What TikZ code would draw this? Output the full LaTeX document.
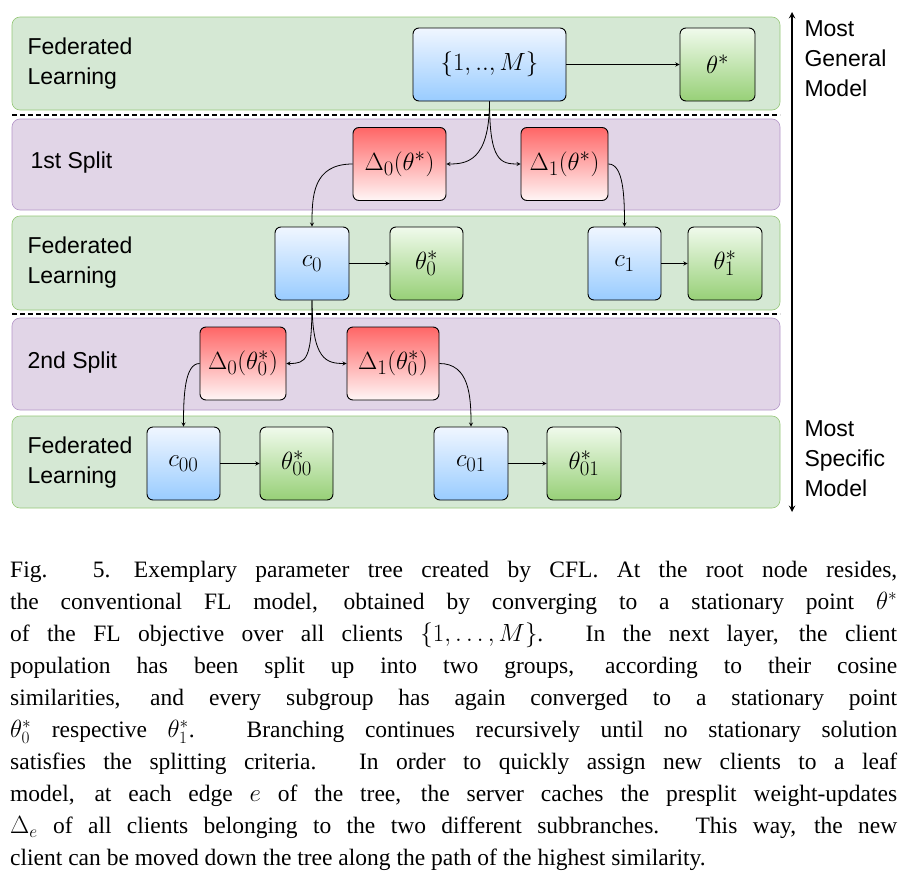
\documentclass[tikz,border=0pt]{standalone}
\usepackage{fontspec}
\setmainfont{Liberation Serif}
\newfontfamily\lab{Liberation Sans}
\begin{document}
\begin{tikzpicture}[x=1pt,y=-1pt,
 gband/.style={line width=0.6pt,rounded corners=8pt,fill={rgb,255:red,213;green,232;blue,212},draw={rgb,255:red,150;green,200;blue,120}},
 pband/.style={line width=0.6pt,rounded corners=8pt,fill={rgb,255:red,225;green,213;blue,231},draw={rgb,255:red,180;green,150;blue,200}},
 box/.style={draw,line width=0.9pt,rounded corners=6pt,minimum height=73pt,inner sep=1pt,font=\fontsize{29}{32}\selectfont},
 bbox/.style={box,top color={rgb,255:red,240;green,246;blue,255},bottom color={rgb,255:red,153;green,204;blue,255}},
 gbox/.style={box,top color={rgb,255:red,240;green,250;blue,236},bottom color={rgb,255:red,151;green,208;blue,119}},
 rbox/.style={box,top color={rgb,255:red,255;green,102;blue,102},bottom color={rgb,255:red,255;green,246;blue,246}},
 lbl/.style={font=\lab\fontsize{23}{30}\selectfont,align=left,anchor=west},
 arr/.style={-stealth,line width=0.9pt},
 carr/.style={-stealth,line width=0.8pt}]
\useasboundingbox (0,0) rectangle (912,894);
\fill[white] (0,0) rectangle (912,894);
% bands
\draw[gband] (12,17) rectangle (780,110);
\draw[pband] (12,119) rectangle (780,210);
\draw[gband] (12,216) rectangle (780,310);
\draw[pband] (12,318) rectangle (780,410);
\draw[gband] (12,416) rectangle (780,508);
\draw[line width=1.6pt,dash pattern=on 5pt off 3pt] (12,115) -- (780,115);
\draw[line width=1.6pt,dash pattern=on 5pt off 3pt] (12,314) -- (780,314);
% labels
\node[lbl] (l1) at (24,64) {Federated\\Learning};
\node[lbl] (l2) at (27,163) {1st Split};
\node[lbl] (l3) at (24,263) {Federated\\Learning};
\node[lbl] (l4) at (24,363) {2nd Split};
\node[lbl] (l5) at (24,463) {Federated\\Learning};
% nodes
\node[bbox,minimum width=153pt] (root) at (489.5,64.5) {$\{1,..,M\}$};
\node[gbox,minimum width=75pt] (t) at (717.5,64.5) {$\theta^*$};
\node[rbox,minimum width=93pt] (d0) at (399.5,164) {$\Delta_0(\theta^*)$};
\node[rbox,minimum width=87pt] (d1) at (564.5,164) {$\Delta_1(\theta^*)$};
\node[bbox,minimum width=74pt] (c0) at (312,263.5) {$c_0$};
\node[gbox,minimum width=73pt] (t0) at (426.5,263.5) {$\theta_0^*$};
\node[bbox,minimum width=73pt] (c1) at (624.5,263.5) {$c_1$};
\node[gbox,minimum width=74pt] (t1) at (725,263.5) {$\theta_1^*$};
\node[rbox,minimum width=86pt] (d00) at (243,363.5) {$\Delta_0(\theta_0^*)$};
\node[rbox,minimum width=92pt] (d01) at (393,363.5) {$\Delta_1(\theta_0^*)$};
\node[bbox,minimum width=73pt] (c00) at (183.5,463.5) {$c_{00}$};
\node[gbox,minimum width=73pt] (t00) at (296.5,463.5) {$\theta_{00}^*$};
\node[bbox,minimum width=74pt] (c01) at (471,463.5) {$c_{01}$};
\node[gbox,minimum width=74pt] (t01) at (584,463.5) {$\theta_{01}^*$};
% connectors
\draw[arr] (root) -- (t);
\draw[arr] (c0) -- (t0);
\draw[arr] (c1) -- (t1);
\draw[arr] (c00) -- (t00);
\draw[arr] (c01) -- (t01);
\draw[carr] (root.south) .. controls ++(0,60) and ++(20,0) .. (d0.east);
\draw[carr] (root.south) .. controls ++(0,60) and ++(-20,0) .. (d1.west);
\draw[carr] (d0.west) .. controls ++(-40,0) and ++(0,-30) .. (c0.north);
\draw[carr] (d1.east) .. controls ++(15,0) and ++(0,-30) .. (c1.north);
\draw[carr] (c0.south) .. controls ++(0,60) and ++(20,0) .. (d00.east);
\draw[carr] (c0.south) .. controls ++(0,60) and ++(-20,0) .. (d01.west);
\draw[carr] (d00.west) .. controls ++(-15,0) and ++(0,-30) .. (c00.north);
\draw[carr] (d01.east) .. controls ++(30,0) and ++(0,-30) .. (c01.north);
% side arrow
\coordinate (top) at (792,12);
\coordinate (bot) at (792,512);
\draw[stealth-stealth,line width=1.8pt] (top) -- (bot);
\node[lbl,anchor=north west] (mg) at (801,17) {Most\\General\\Model};
\node[lbl,anchor=north west] (ms) at (801,417) {Most\\Specific\\Model};
% caption
\node[anchor=north west,text width=887pt,align=justify,inner sep=0pt,font=\fontsize{23.5}{32}\selectfont] (cap) at (10,561) {\hbadness=10000\hfuzz=20pt Fig. 5.\quad Exemplary parameter tree created by CFL. At the root node resides,\linebreak the conventional FL model, obtained by converging to a stationary point $\theta^*$\linebreak of the FL objective over all clients $\{1,\ldots,M\}$. In the next layer, the client\linebreak population has been split up into two groups, according to their cosine\linebreak similarities, and every subgroup has again converged to a stationary point\linebreak $\theta_0^*$ respective $\theta_1^*$. Branching continues recursively until no stationary solution\linebreak satisfies the splitting criteria. In order to quickly assign new clients to a leaf\linebreak model, at each edge $e$ of the tree, the server caches the presplit weight-updates\linebreak $\Delta_e$ of all clients belonging to the two different subbranches. This way, the new\linebreak client can be moved down the tree along the path of the highest similarity.};
\end{tikzpicture}
\end{document}
